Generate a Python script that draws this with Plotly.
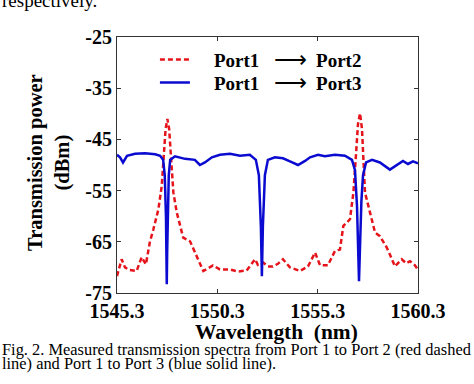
import plotly.graph_objects as go

# Port1 -> Port2 (red dashed)
red_wl = [1545.30, 1545.53, 1545.70, 1545.90, 1546.28, 1546.53, 1546.74, 1546.94, 1547.11, 1547.36,
          1547.53, 1547.65, 1547.72, 1547.81, 1547.90, 1548.00, 1548.11, 1548.28, 1548.44, 1548.60,
          1548.94, 1549.27, 1549.60, 1549.83, 1550.08, 1550.43, 1550.93, 1551.33, 1551.76, 1552.18,
          1552.32, 1552.59, 1552.82, 1553.07, 1553.32, 1553.57, 1553.92, 1554.42, 1554.82, 1555.17,
          1555.42, 1555.81, 1556.16, 1556.41, 1556.58, 1556.91, 1557.08, 1557.21, 1557.31, 1557.41,
          1557.51, 1557.58, 1557.66, 1557.91, 1558.16, 1558.40, 1558.74, 1558.90, 1559.15, 1559.49,
          1559.71, 1559.90, 1560.15, 1560.30]
red_db = [-71.7, -68.4, -70.0, -70.5, -70.7, -68.0, -69.4, -65.0, -62.6, -58.7,
          -54.1, -48.0, -43.0, -41.0, -43.0, -49.0, -55.4, -59.3, -62.0, -64.2,
          -64.9, -67.8, -70.7, -70.2, -69.6, -70.4, -70.4, -70.8, -70.6, -68.4,
          -69.5, -69.1, -69.8, -69.8, -69.3, -68.4, -70.0, -70.7, -69.8, -67.1,
          -69.6, -69.6, -66.8, -66.5, -61.9, -60.6, -55.4, -48.0, -42.0, -39.9,
          -43.0, -49.0, -55.4, -59.3, -63.2, -63.9, -66.1, -67.5, -69.8, -68.4,
          -69.2, -68.8, -69.6, -70.5]

# Port1 -> Port3 (blue solid)
blue_wl = [1545.30, 1545.45, 1545.60, 1545.80, 1546.20, 1546.70, 1547.20, 1547.45, 1547.60, 1547.68,
           1547.74, 1547.76, 1547.78, 1547.80, 1547.84, 1547.88, 1547.95, 1548.19, 1548.69, 1549.18,
           1549.43, 1549.68, 1550.03, 1550.43, 1550.93, 1551.43, 1551.92, 1552.22, 1552.37, 1552.47,
           1552.52, 1552.57, 1552.67, 1552.82, 1553.17, 1553.57, 1553.92, 1554.32, 1554.67, 1554.92,
           1555.32, 1555.66, 1556.16, 1556.66, 1557.01, 1557.16, 1557.26, 1557.33, 1557.36, 1557.41,
           1557.48, 1557.56, 1557.71, 1558.01, 1558.40, 1558.90, 1559.25, 1559.55, 1559.80, 1560.05,
           1560.30]
blue_db = [-48.0, -48.5, -49.5, -48.2, -47.8, -47.7, -47.9, -48.2, -49.0, -52.0,
           -60.0, -68.0, -73.3, -67.0, -56.0, -52.0, -49.0, -48.3, -48.8, -49.0,
           -50.0, -49.5, -48.5, -48.0, -47.8, -48.2, -48.0, -49.0, -52.0, -62.0,
           -71.7, -62.0, -52.0, -49.0, -48.5, -48.7, -49.3, -50.0, -49.2, -48.5,
           -48.0, -48.3, -48.0, -48.2, -49.0, -51.0, -58.0, -66.0, -72.7, -66.0,
           -57.0, -52.0, -49.5, -49.0, -49.5, -50.9, -50.0, -49.2, -49.8, -49.3,
           -49.7]

x_ticks = [1545.3, 1550.3, 1555.3, 1560.3]
x_ticklabels = ["1545.3", "1550.3", "1555.3", "1560.3"]
y_ticks = [-25, -35, -45, -55, -65, -75]
y_ticklabels = ["-25", "-35", "-45", "-55", "-65", "-75"]

SERIF = "Liberation Serif, Times New Roman, serif"
PAD = "\u00a0\u00a0\u00a0\u00a0"
ARROW = "<span style='font-size:23px;font-weight:normal'>\u27f6</span>"

fig = go.Figure()
fig.add_trace(go.Scatter(x=red_wl, y=red_db, mode="lines",
                         name=PAD + "Port1\u00a0\u00a0\u00a0" + ARROW + "\u00a0\u00a0Port2",
                         legend="legend",
                         line=dict(color="#e5141b", width=2.5, dash="5px,3px")))
fig.add_trace(go.Scatter(x=blue_wl, y=blue_db, mode="lines",
                         name=PAD + "Port1\u00a0\u00a0\u00a0" + ARROW + "\u00a0\u00a0Port3",
                         legend="legend2",
                         line=dict(color="#0a0ad0", width=2.5)))

axis_common = dict(showgrid=False, zeroline=False, showline=True, linecolor="#333",
                   linewidth=1, mirror="ticks", ticks="inside", ticklen=4,
                   tickcolor="#333",
                   tickfont=dict(family=SERIF, size=20, color="black", weight="bold"))

fig.update_xaxes(range=[1545.3, 1560.3], tickvals=x_ticks, ticktext=x_ticklabels, **axis_common)
fig.update_yaxes(range=[-75, -25], tickvals=y_ticks, ticktext=y_ticklabels, **axis_common)

legend_common = dict(xanchor="left", yanchor="middle", bgcolor="rgba(0,0,0,0)",
                     borderwidth=0, itemwidth=30,
                     font=dict(family=SERIF, size=19, color="black", weight="bold"))

fig.update_layout(
    width=474, height=384,
    margin=dict(l=117, r=56, t=37, b=91),
    paper_bgcolor="white", plot_bgcolor="white",
    showlegend=True,
    legend=dict(x=0.126, y=(293 - 60) / 255.5, **legend_common),
    legend2=dict(x=0.126, y=(293 - 83) / 255.5, **legend_common),
    annotations=[
        dict(text="<b>Transmission power</b><br><b>(dBm)</b>", textangle=-90,
             xref="paper", yref="paper", x=-0.224, y=0.51, xanchor="center", yanchor="middle",
             showarrow=False, font=dict(family=SERIF, size=20.5, color="black")),
        dict(text="<b>Wavelength  (nm)</b>", xref="paper", yref="paper",
             x=0.53, y=-0.153, xanchor="center", yanchor="middle",
             showarrow=False, font=dict(family=SERIF, size=21.4, color="black")),
        dict(text="Fig. 2. Measured transmission spectra from Port 1 to Port 2 (red dashed",
             xref="paper", yref="paper", x=-117/301, y=(293-349)/255.5, xanchor="left", yanchor="middle",
             showarrow=False, font=dict(family=SERIF, size=16.4, color="black")),
        dict(text="line) and Port 1 to Port 3 (blue solid line).",
             xref="paper", yref="paper", x=-117/301, y=(293-363)/255.5, xanchor="left", yanchor="middle",
             showarrow=False, font=dict(family=SERIF, size=16.4, color="black")),
        dict(text="respectively.",
             xref="paper", yref="paper", x=-117/301, y=(293-1)/255.5, xanchor="left", yanchor="middle",
             showarrow=False, font=dict(family=SERIF, size=19, color="black")),
    ],
)

fig.write_html("out.html", config={"displayModeBar": False},
               post_script="document.body.style.margin='0';")
